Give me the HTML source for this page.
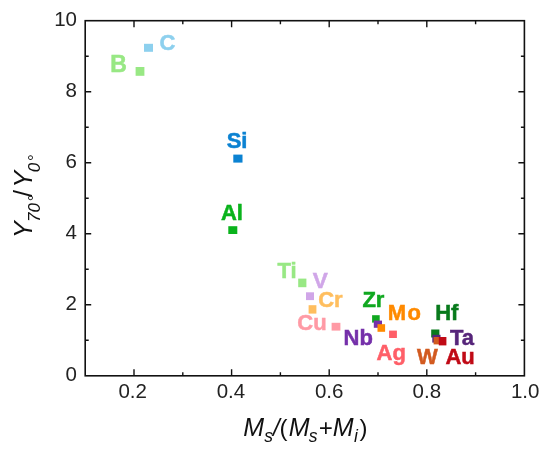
<!DOCTYPE html>
<html><head><meta charset="utf-8"><style>
html,body{margin:0;padding:0;background:#fff;width:550px;height:453px;overflow:hidden}
svg{display:block}
text{font-family:"Liberation Sans",Arial,sans-serif}
</style></head><body>
<svg width="550" height="453" viewBox="0 0 550 453">
<rect x="0" y="0" width="550" height="453" fill="#fff"/>
<g>
<rect x="85.2" y="20.7" width="439.2" height="355.1" fill="none" stroke="#111" stroke-width="1.6"/>
<path d="M134.0 375.8v-6.5M134.0 20.7v6.5M231.6 375.8v-6.5M231.6 20.7v6.5M329.2 375.8v-6.5M329.2 20.7v6.5M426.8 375.8v-6.5M426.8 20.7v6.5M182.8 375.8v-3.5M182.8 20.7v3.5M280.4 375.8v-3.5M280.4 20.7v3.5M378.0 375.8v-3.5M378.0 20.7v3.5M475.6 375.8v-3.5M475.6 20.7v3.5M85.2 304.8h6M524.4 304.8h-6M85.2 233.8h6M524.4 233.8h-6M85.2 162.7h6M524.4 162.7h-6M85.2 91.7h6M524.4 91.7h-6M85.2 340.3h3.5M524.4 340.3h-3.5M85.2 269.3h3.5M524.4 269.3h-3.5M85.2 198.2h3.5M524.4 198.2h-3.5M85.2 127.2h3.5M524.4 127.2h-3.5M85.2 56.2h3.5M524.4 56.2h-3.5" stroke="#111" stroke-width="1.4" fill="none"/>
<g font-size="20.5" fill="#222" text-anchor="middle">
<text x="132.7" y="397.6">0.2</text>
<text x="230.9" y="397.6">0.4</text>
<text x="329.2" y="397.6">0.6</text>
<text x="426.8" y="397.6">0.8</text>
<text x="525.2" y="397.6">1.0</text>
</g>
<g font-size="20.5" fill="#222" text-anchor="end">
<text x="77" y="25.7">10</text>
<text x="77" y="96.7">8</text>
<text x="77" y="167.7">6</text>
<text x="77" y="238.8">4</text>
<text x="77" y="309.8">2</text>
<text x="77" y="380.8">0</text>
</g>
<g fill="#111" class="xl">
<text x="243.30" y="436.00" font-size="25" font-style="italic">M</text>
<text x="264.30" y="441.60" font-size="17.5" font-style="italic">s</text>
<text x="273.00" y="436.00" font-size="24" font-style="italic">/</text>
<text x="279.50" y="436.00" font-size="24">(</text>
<text x="288.80" y="436.00" font-size="25" font-style="italic">M</text>
<text x="308.80" y="441.60" font-size="17.5" font-style="italic">s</text>
<text x="318.50" y="436.00" font-size="24" font-style="italic">+</text>
<text x="332.80" y="436.00" font-size="25" font-style="italic">M</text>
<text x="354.00" y="441.60" font-size="17.5" font-style="italic">i</text>
<text x="359.50" y="436.00" font-size="24">)</text>
</g>
<g fill="#111" transform="rotate(-90)" class="yl">
<text x="-238.00" y="32.00" font-size="25" font-style="italic">Y</text>
<text x="-222.00" y="40.00" font-size="17" font-style="italic">70</text>
<text x="-201.30" y="40.00" font-size="17">°</text>
<text x="-197.00" y="32.00" font-size="25">/</text>
<text x="-187.50" y="32.00" font-size="25" font-style="italic">Y</text>
<text x="-172.30" y="40.00" font-size="17" font-style="italic">0</text>
<text x="-161.00" y="40.00" font-size="17">°</text>
</g>
<rect x="144.0" y="43.8" width="9.0" height="8.0" fill="#8dd0ee"/>
<rect x="135.6" y="67.0" width="8.8" height="8.8" fill="#98e884"/>
<rect x="233.3" y="154.6" width="9.2" height="8.0" fill="#0b82d2"/>
<rect x="228.3" y="226.2" width="9.0" height="7.8" fill="#0ab31c"/>
<rect x="298.2" y="278.6" width="8.2" height="8.6" fill="#98e884"/>
<rect x="306.0" y="292.3" width="8.0" height="7.8" fill="#d0a6e8"/>
<rect x="308.6" y="305.2" width="7.8" height="8.4" fill="#ffbe5e"/>
<rect x="331.6" y="322.8" width="8.8" height="7.8" fill="#ff9aa5"/>
<rect x="372.1" y="315.2" width="7.6" height="7.4" fill="#10a820"/>
<rect x="373.8" y="320.6" width="8.2" height="7.2" fill="#7530aa"/>
<rect x="377.5" y="324.2" width="7.6" height="7.6" fill="#ff8a00"/>
<rect x="389.1" y="330.6" width="7.8" height="7.4" fill="#ff5f68"/>
<rect x="431.2" y="329.5" width="8.2" height="8.0" fill="#087a1c"/>
<rect x="432.3" y="334.8" width="8.2" height="7.8" fill="#56257a"/>
<rect x="433.6" y="337.0" width="7.6" height="7.4" fill="#d25a20"/>
<rect x="438.8" y="337.0" width="7.6" height="8.4" fill="#c00a16"/>
<g font-size="22" font-weight="bold" stroke-width="0.5">
<text x="110.20" y="71.60" fill="#98e884" stroke="#98e884" font-size="23">B</text>
<text x="159.45" y="49.70" fill="#8dd0ee" stroke="#8dd0ee">C</text>
<text x="226.65" y="148.45" fill="#0b82d2" stroke="#0b82d2">Si</text>
<text x="220.90" y="220.40" fill="#0ab31c" stroke="#0ab31c">Al</text>
<text x="277.50" y="277.50" fill="#98e884" stroke="#98e884">Ti</text>
<text x="312.85" y="287.85" fill="#d0a6e8" stroke="#d0a6e8" font-size="22.6">V</text>
<text x="318.20" y="307.00" fill="#ffbe5e" stroke="#ffbe5e">Cr</text>
<text x="297.30" y="329.65" fill="#ff9aa5" stroke="#ff9aa5">Cu</text>
<text x="362.40" y="307.35" fill="#10a820" stroke="#10a820">Zr</text>
<text x="343.55" y="345.20" fill="#7530aa" stroke="#7530aa">Nb</text>
<text x="387.85" y="319.70" fill="#ff8a00" stroke="#ff8a00" letter-spacing="1.3">Mo</text>
<text x="376.50" y="359.50" fill="#ff5f68" stroke="#ff5f68">Ag</text>
<text x="435.20" y="319.90" fill="#087a1c" stroke="#087a1c">Hf</text>
<text x="450.05" y="344.80" fill="#56257a" stroke="#56257a">Ta</text>
<text x="417.05" y="363.80" fill="#d25a20" stroke="#d25a20">W</text>
<text x="445.40" y="363.80" fill="#c00a16" stroke="#c00a16">Au</text>
</g>
</g>
</svg>
</body></html>
